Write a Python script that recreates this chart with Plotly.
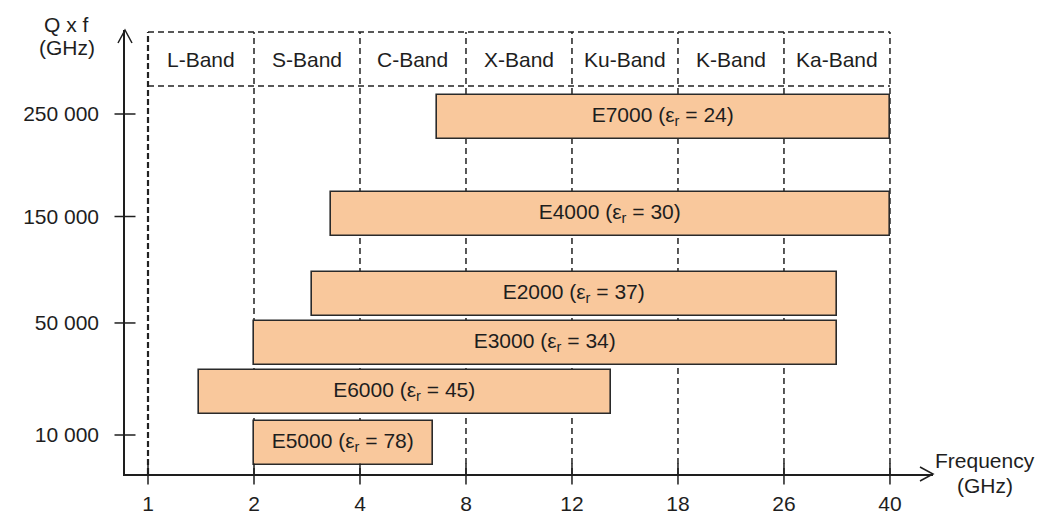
import numpy as np
import plotly.graph_objects as go

# ---- data ----
freq_ticks = [1, 2, 4, 8, 12, 18, 26, 40]
freq_labels = ["1", "2", "4", "8", "12", "18", "26", "40"]
bands = ["L-Band", "S-Band", "C-Band", "X-Band", "Ku-Band", "K-Band", "Ka-Band"]
qf_ticks = [10000, 50000, 150000, 250000]
qf_labels = ["10 000", "50 000", "150 000", "250 000"]

materials = ["E7000", "E4000", "E2000", "E3000", "E6000", "E5000"]
eps_r = [24, 30, 37, 34, 45, 78]
f_start = [6.9, 3.45, 3.1, 2.0, 1.48, 2.0]
f_end = [40, 40, 33, 33, 14.2, 6.75]
qf_level = [246600, 152400, 77200, 42700, 25400, 8000]

# ---- scales (the original chart spaces its ticks evenly, not linearly) ----
X_MIN, X_MAX = -0.217, 7.406
Y_MIN, Y_MAX = -0.3645, 3.785
PLOT_W, PLOT_H = 808, 444
x_tick_pos = list(range(len(freq_ticks)))
y_tick_pos = [0, 1.047, 2.042, 3]


def xpos(f):
    return np.interp(f, freq_ticks, x_tick_pos)


def ypos(q):
    return np.interp(q, [0] + qf_ticks, [Y_MIN] + y_tick_pos)


xs = xpos(np.array(f_start))
xe = xpos(np.array(f_end))
yc = ypos(np.array(qf_level))
texts = [f"{m} (ε<sub>r</sub> = {e})" for m, e in zip(materials, eps_r)]

FONT = "Liberation Sans, Arial, sans-serif"
INK = "#1e1e1e"
FS = 21

fig = go.Figure()
fig.add_trace(go.Bar(
    orientation="h",
    y=yc, x=xe - xs, base=xs, width=0.411,
    marker=dict(color="#F9C89C", line=dict(color="#2a2a2a", width=1.6)),
    text=texts, textposition="inside", insidetextanchor="middle",
    textfont=dict(family=FONT, size=FS, color=INK),
    constraintext="none", hoverinfo="skip",
))

# tick crosses on the axes
nx = len(freq_ticks)
fig.add_trace(go.Scatter(
    x=x_tick_pos, y=[Y_MIN] * nx, mode="markers",
    marker=dict(symbol="line-ns", size=15, line=dict(color=INK, width=1.5)),
    cliponaxis=False, hoverinfo="skip", showlegend=False))
ny = len(qf_ticks)
fig.add_trace(go.Scatter(
    x=[X_MIN] * ny, y=y_tick_pos, mode="markers",
    marker=dict(symbol="line-ew", size=15, line=dict(color=INK, width=1.5)),
    cliponaxis=False, hoverinfo="skip", showlegend=False))

HDR_TOP, HDR_BOT = 3.766, 3.262
shapes = []
for i in x_tick_pos:
    shapes.append(dict(type="line", x0=i, x1=i, y0=Y_MIN, y1=HDR_TOP, layer="below",
                       line=dict(color="#222", width=2.2 if i == 0 else 1.5,
                                 dash="6px,3px" if i == 0 else "6px,4px")))
for yy in (HDR_TOP, HDR_BOT):
    shapes.append(dict(type="line", x0=0, x1=nx - 1, y0=yy, y1=yy, layer="below",
                       line=dict(color="#222", width=1.5, dash="6px,4px")))
# arrow heads (paper coords so they are not clipped)
ax, ay = 13 / PLOT_W, 7 / PLOT_H
shapes.append(dict(type="path", xref="paper", yref="paper",
                   path=f"M {1 - ax} {ay} L 1 0 L {1 - ax} {-ay}",
                   line=dict(color=INK, width=1.5)))
bx, by = 7 / PLOT_W, 13 / PLOT_H
shapes.append(dict(type="path", xref="paper", yref="paper",
                   path=f"M {-bx} {1 - by} L 0 1 L {bx} {1 - by}",
                   line=dict(color=INK, width=1.5)))

annotations = []
for i, b in enumerate(bands):
    annotations.append(dict(x=i + 0.5, y=(HDR_TOP + HDR_BOT) / 2, text=b, showarrow=False,
                            font=dict(family=FONT, size=FS, color=INK)))
for txt, xp, yp in [("Q x f", -0.0718, 1.0113), ("(GHz)", -0.0718, 0.9617),
                    ("Frequency", 1.0644, 0.0315), ("(GHz)", 1.0644, -0.0248)]:
    annotations.append(dict(xref="paper", yref="paper", x=xp, y=yp, xanchor="center",
                            yanchor="middle", text=txt, showarrow=False,
                            font=dict(family=FONT, size=FS, color=INK)))

fig.update_layout(
    width=1049, height=517,
    margin=dict(l=125, r=116, t=30, b=43, autoexpand=False),
    paper_bgcolor="white", plot_bgcolor="white",
    showlegend=False, bargap=0,
    shapes=shapes, annotations=annotations,
    xaxis=dict(range=[X_MIN, X_MAX], tickvals=x_tick_pos, ticktext=freq_labels,
               showgrid=False, zeroline=False, showline=True, linecolor=INK, linewidth=1.5,
               automargin=False,
               ticks="", ticklabelstandoff=10, tickfont=dict(family=FONT, size=FS, color=INK)),
    yaxis=dict(range=[Y_MIN, Y_MAX], tickvals=y_tick_pos, ticktext=qf_labels,
               showgrid=False, zeroline=False, showline=True, linecolor=INK, linewidth=1.5,
               automargin=False,
               ticks="", ticklabelstandoff=20, tickfont=dict(family=FONT, size=FS, color=INK)),
)

fig.write_html("out.html")
